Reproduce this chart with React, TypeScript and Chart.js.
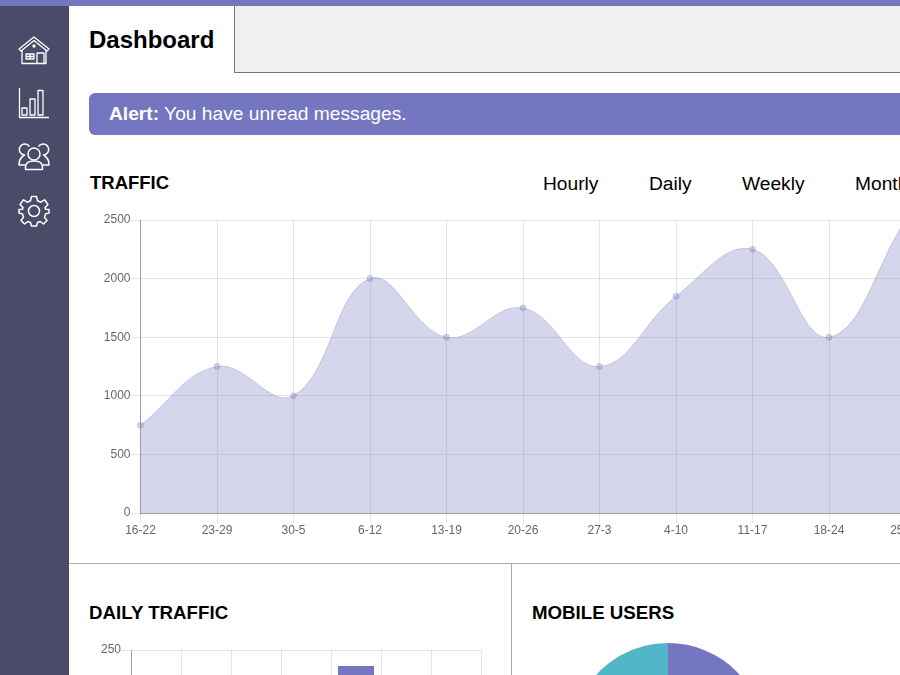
import { useEffect, useRef } from "react";
import { Chart, registerables } from "chart.js";

Chart.register(...registerables);

const FONT = '"Liberation Sans", Arial, sans-serif';
Chart.defaults.font.family = FONT;
Chart.defaults.font.size = 12;
Chart.defaults.color = "#666";

const PURPLE = "#7477bf";
const FILL = "rgba(116, 119, 191, 0.3)";
const GRID = "rgba(0, 0, 0, 0.1)";
const AXIS = "rgba(0, 0, 0, 0.3)";

const trafficLabels = ["16-22", "23-29", "30-5", "6-12", "13-19", "20-26", "27-3", "4-10", "11-17", "18-24", "25-31"];
const trafficValues = [750, 1250, 1000, 2000, 1500, 1750, 1250, 1850, 2250, 1500, 2500];

const dailyLabels = ["S", "M", "T", "W", "T", "F", "S"];
const dailyValues = [75, 100, 175, 125, 225, 200, 100];

const mobileLabels = ["Desktop", "Tablet", "Phones"];
const mobileValues = [2000, 550, 500];
const mobileColors = [PURPLE, "#81c98f", "#51b6c8"];

const navItems = [
  { text: "Hourly", left: 543 },
  { text: "Daily", left: 649 },
  { text: "Weekly", left: 742 },
  { text: "Monthly", left: 855 },
];

function useChart(makeConfig: () => any) {
  const ref = useRef<HTMLCanvasElement>(null);
  useEffect(() => {
    if (!ref.current) return;
    const chart = new Chart(ref.current, makeConfig());
    return () => chart.destroy();
  }, []);
  return ref;
}

function TrafficChart() {
  const ref = useChart(() => ({
    type: "line",
    data: {
      labels: trafficLabels,
      datasets: [
        {
          data: trafficValues,
          backgroundColor: FILL,
          borderColor: FILL,
          borderWidth: 1,
          fill: true,
          tension: 0.4,
          pointRadius: 3,
          pointBackgroundColor: FILL,
          pointBorderColor: FILL,
          clip: false,
        },
      ],
    },
    options: {
      responsive: false,
      animation: false,
      layout: { padding: { top: 10, right: 34.5, bottom: 0.5 } },
      plugins: { legend: { display: false }, tooltip: { enabled: false } },
      scales: {
        x: {
          grid: { color: GRID, tickLength: 10 },
          border: { color: AXIS },
          ticks: { maxRotation: 0, autoSkip: false, padding: 0 },
        },
        y: {
          min: 0,
          max: 2500,
          grid: { color: GRID, tickLength: 10 },
          border: { color: AXIS },
          ticks: { stepSize: 500, padding: 0, callback: (v: any) => String(v) },
          afterFit: (scale: any) => {
            scale.width = 50.5;
          },
        },
      },
    },
  }));
  return <canvas ref={ref} width={850} height={328} style={{ position: "absolute", left: 90, top: 210 }} />;
}

function DailyChart() {
  const ref = useChart(() => ({
    type: "bar",
    data: {
      labels: dailyLabels,
      datasets: [
        {
          data: dailyValues,
          backgroundColor: PURPLE,
          categoryPercentage: 0.8,
          barPercentage: 0.9,
        },
      ],
    },
    options: {
      responsive: false,
      animation: false,
      layout: { padding: { top: 10, right: 8 } },
      plugins: { legend: { display: false }, tooltip: { enabled: false } },
      scales: {
        x: {
          grid: { color: GRID, tickLength: 10 },
          border: { color: AXIS },
          ticks: { maxRotation: 0, padding: 0 },
        },
        y: {
          min: 0,
          max: 250,
          grid: { color: GRID, tickLength: 10 },
          border: { color: AXIS },
          ticks: { stepSize: 50, padding: 0 },
          afterFit: (scale: any) => {
            scale.width = 42;
          },
        },
      },
    },
  }));
  return <canvas ref={ref} width={400} height={195} style={{ position: "absolute", left: 89, top: 640 }} />;
}

function MobileChart() {
  const ref = useChart(() => ({
    type: "pie",
    data: {
      labels: mobileLabels,
      datasets: [{ data: mobileValues, backgroundColor: mobileColors, borderWidth: 0 }],
    },
    options: {
      responsive: false,
      animation: false,
      layout: { padding: 13 },
      plugins: { legend: { display: false }, tooltip: { enabled: false } },
    },
  }));
  return <canvas ref={ref} width={220} height={220} style={{ position: "absolute", left: 558, top: 630 }} />;
}

const iconStyle = { position: "absolute", left: 18, fill: "none", stroke: "#fff", strokeWidth: 1.3, strokeLinejoin: "round" } as const;

function Icons() {
  return (
    <>
      <svg width={32} height={30} viewBox="0 0 32 30" style={{ ...iconStyle, top: 35 }}>
        <path d="M1 14 L16 2 L31 14 L29 16 L16 5.5 L3 16 Z" />
        <path d="M4 15 V28.5 H28 V15" />
        <rect x={8} y={19} width={8} height={5} />
        <path d="M12 19 V24 M8 21.5 H16" />
        <path d="M19 28.5 V18 H26 V28.5" />
        <circle cx={16} cy={11} r={1} fill="#fff" />
      </svg>
      <svg width={32} height={32} viewBox="0 0 32 32" style={{ ...iconStyle, top: 87 }}>
        <path d="M1.5 1 V30.5 H31" />
        <rect x={4} y={21} width={5} height={7} />
        <rect x={12} y={12} width={5} height={16} />
        <rect x={20} y={3.5} width={5} height={24.5} />
      </svg>
      <svg width={32} height={30} viewBox="0 0 32 30" style={{ ...iconStyle, top: 142, strokeWidth: 1.5 }}>
        <circle cx={16} cy={12} r={6} />
        <path d="M7.5 27.5 V25 C7.5 21 11 19 16 19 C21 19 24.5 21 24.5 25 V27.5 Z" />
        <path d="M11.5 4.5 A5.5 5.5 0 1 0 6.5 13 C3 15 1 18 1 23 H7.5" />
        <path d="M20.5 4.5 A5.5 5.5 0 1 1 25.5 13 C29 15 31 18 31 23 H24.5" />
      </svg>
      <svg width={32} height={32} viewBox="0 0 32 32" style={{ ...iconStyle, top: 195, strokeWidth: 1.5 }}>
        <circle cx={16} cy={16} r={5.5} />
        <path d="M13.5 1.5 H18.5 L19.5 5.8 L22.8 7.2 L26.5 4.8 L27.2 5.5 L27.2 5.5 L30 9.5 L27 12.5 L27.5 14.2 L31 14.5 V18 L27.5 19 L26.5 22.2 L29 25.5 L25.5 29 L22.2 26.5 L19.5 27.5 L18.5 31 H13.5 L12.5 27.5 L9.8 26.5 L6.5 29 L3 25.5 L5.5 22.2 L4.5 19 L1 18 V14.5 L4.5 14.2 L5 12.5 L2 9.5 L5.5 4.8 L9.2 7.2 L12.5 5.8 Z" />
      </svg>
    </>
  );
}

const abs = (left: number, top: number, extra: object = {}) => ({ position: "absolute", left, top, whiteSpace: "nowrap", ...extra } as const);

export default function App() {
  return (
    <div style={{ position: "fixed", left: 0, top: 0, width: 900, height: 675, overflow: "hidden", background: "#fff", fontFamily: FONT, color: "#000" }}>
      <div style={abs(0, 0, { width: 900, height: 6, background: PURPLE })} />
      <div style={abs(0, 6, { width: 69, height: 669, background: "#4a4a69" })} />
      <Icons />

      <div style={abs(234, 6, { width: 666, height: 66, background: "#f0f0f0", borderLeft: "1px solid #777", borderBottom: "1px solid #777" })} />
      <div style={abs(89, 25, { fontSize: 24, fontWeight: "bold", lineHeight: "29px" })}>Dashboard</div>

      <div style={abs(89, 93, { width: 830, height: 42, background: PURPLE, borderRadius: 6, color: "#fff", fontSize: 19.2, lineHeight: "42px", paddingLeft: 20 })}>
        <b>Alert:</b> You have unread messages.
      </div>

      <div style={abs(90, 172, { fontSize: 18.5, fontWeight: "bold", lineHeight: "22px" })}>TRAFFIC</div>
      {navItems.map((n) => (
        <div key={n.text} style={abs(n.left, 172, { fontSize: 19.2, lineHeight: "23px" })}>
          {n.text}
        </div>
      ))}
      <TrafficChart />

      <div style={abs(69, 563, { width: 831, height: 1, background: "#aaa" })} />
      <div style={abs(511, 563, { width: 1, height: 112, background: "#aaa" })} />

      <div style={abs(89, 602, { fontSize: 18.7, fontWeight: "bold", lineHeight: "22px" })}>DAILY TRAFFIC</div>
      <DailyChart />

      <div style={abs(532, 602, { fontSize: 18.7, fontWeight: "bold", lineHeight: "22px" })}>MOBILE USERS</div>
      <MobileChart />
    </div>
  );
}
